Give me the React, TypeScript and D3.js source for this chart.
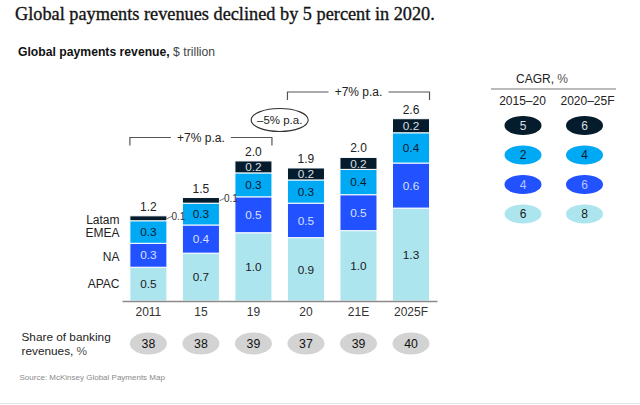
import React from "react";
import * as d3 from "d3";

// Global payments revenue by region, $ trillion
const years = ["2011", "15", "19", "20", "21E", "2025F"];
const regions = ["APAC", "NA", "EMEA", "Latam"];
const apac = [0.48, 0.68, 0.97, 0.9, 1.0, 1.32];
const na = [0.34, 0.4, 0.51, 0.49, 0.51, 0.64];
const emea = [0.32, 0.31, 0.34, 0.33, 0.36, 0.43];
const latam = [0.07, 0.08, 0.17, 0.17, 0.17, 0.2];
const bankingShare = [38, 38, 39, 37, 39, 40];

// CAGR table (rows: Latam, EMEA, NA, APAC)
const cagrRows = ["Latam", "EMEA", "NA", "APAC"];
const cagr1520 = [5, 2, 4, 6];
const cagr2025 = [6, 4, 6, 8];

const colors: Record<string, string> = {
  APAC: "#ade5ef",
  NA: "#2251ff",
  EMEA: "#00a9f4",
  Latam: "#051c2c",
};
const textColors: Record<string, string> = {
  APAC: "#1a1a1a",
  NA: "#d8e0ff",
  EMEA: "#0b1a2a",
  Latam: "#d9dde2",
};

const SANS = "'Liberation Sans', Arial, sans-serif";
const fmt = d3.format(".1f");

export default function App() {
  const series: Record<string, number[]> = { APAC: apac, NA: na, EMEA: emea, Latam: latam };
  const rows = years.map((y, i) => {
    const r: any = { year: y };
    regions.forEach((k) => (r[k] = series[k][i]));
    return r;
  });
  const stack = d3.stack<any>().keys(regions)(rows);

  const x = d3.scaleBand().domain(years).range([122, 437.4]).paddingInner(0.295).paddingOuter(0.15);
  const y = d3.scaleLinear().domain([0, 2.6]).range([301, 118]);
  const bw = x.bandwidth();
  const totals = rows.map((r) => d3.sum(regions, (k) => r[k]));

  const bar0 = stack.map((s) => s[0]);
  const regionLabelY: Record<string, number> = {
    APAC: (y(bar0[0][0]) + y(bar0[0][1])) / 2,
    NA: (y(bar0[1][0]) + y(bar0[1][1])) / 2 + 1,
    EMEA: (y(bar0[2][0]) + y(bar0[2][1])) / 2 + 1,
    Latam: y(bar0[3][1]) + 3.5,
  };

  const bx = (k: string) => x(k) as number;
  const cx = (k: string) => bx(k) + bw / 2;

  // growth brackets
  const b1 = { x1: bx("2011"), x2: bx("19") + bw, y: 137.5, text: "+7% p.a." };
  const b2 = { x1: bx("20"), x2: bx("2025F") + bw, y: 92, text: "+7% p.a." };
  const dipX = (cx("19") + cx("20")) / 2;

  const cagrX = [523, 584.5];
  const cagrY = d3.scalePoint().domain(cagrRows).range([125.5, 214]);

  return (
    <svg width={640} height={405} style={{ position: "absolute", left: 0, top: 0, background: "#fff" }}>
      <text
        x={15}
        y={19.5}
        fontFamily="'Liberation Serif', 'Times New Roman', serif"
        fontSize={18.3}
        fill="#151515"
        stroke="#151515"
        strokeWidth={0.35}
      >
        Global payments revenues declined by 5 percent in 2020.
      </text>
      <text x={18} y={55.5} fontFamily={SANS} fontSize={12.2} fill="#111">
        <tspan fontWeight="bold">Global payments revenue,</tspan>
        <tspan fill="#444"> $ trillion</tspan>
      </text>

      {/* stacked bars */}
      {stack.map((s) => (
        <g key={s.key}>
          {s.map((d, i) => {
            const top = y(d[1]);
            const bot = y(d[0]);
            const h = bot - top;
            const v = d[1] - d[0];
            const inside = h > 8;
            return (
              <g key={i}>
                <rect x={bx(years[i])} y={top} width={bw} height={h} fill={colors[s.key]} stroke="#fff" strokeWidth={1} />
                {inside ? (
                  <text
                    x={cx(years[i])}
                    y={(top + bot) / 2 + 4.2}
                    textAnchor="middle"
                    fontFamily={SANS}
                    fontSize={11.8}
                    fill={textColors[s.key]}
                  >
                    {fmt(v)}
                  </text>
                ) : (
                  <g>
                    <line
                      x1={bx(years[i]) + bw}
                      y1={(top + bot) / 2 + 0.5}
                      x2={bx(years[i]) + bw + 5}
                      y2={(top + bot) / 2 - 2}
                      stroke="#555"
                      strokeWidth={0.8}
                    />
                    <text x={bx(years[i]) + bw + 4.5} y={(top + bot) / 2 + 1.5} fontFamily={SANS} fontSize={10} fill="#333">
                      {fmt(v)}
                    </text>
                  </g>
                )}
              </g>
            );
          })}
        </g>
      ))}

      {/* totals */}
      {years.map((yr, i) => (
        <text key={yr} x={cx(yr)} y={y(totals[i]) - 5} textAnchor="middle" fontFamily={SANS} fontSize={12} fill="#222">
          {fmt(totals[i])}
        </text>
      ))}

      {/* region labels */}
      {regions.map((k) => (
        <text key={k} x={119.5} y={regionLabelY[k] + 4.3} textAnchor="end" fontFamily={SANS} fontSize={12} fill="#222">
          {k}
        </text>
      ))}

      {/* axis */}
      <line x1={122.5} x2={437.5} y1={301.5} y2={301.5} stroke="#8a8a8a" strokeWidth={1.5} />
      {years.map((yr) => (
        <text key={yr} x={cx(yr)} y={316} textAnchor="middle" fontFamily={SANS} fontSize={12} fill="#333">
          {yr}
        </text>
      ))}

      {/* growth brackets */}
      {[b1, b2].map((b, i) => {
        const mid = (b.x1 + b.x2) / 2;
        const half = 30;
        return (
          <g key={i} stroke="#555" strokeWidth={1.2} fill="none">
            <path d={`M${b.x1},${b.y + 8}V${b.y}H${mid - half}`} />
            <path d={`M${mid + half},${b.y}H${b.x2}V${b.y + 8}`} />
            <text x={mid} y={b.y + 4.3} textAnchor="middle" fontFamily={SANS} fontSize={12} fill="#222" stroke="none">
              {b.text}
            </text>
          </g>
        );
      })}
      <ellipse cx={dipX} cy={120} rx={28.5} ry={11.5} fill="#fff" stroke="#333" strokeWidth={1.1} />
      <text x={dipX} y={124.2} textAnchor="middle" fontFamily={SANS} fontSize={11.5} fill="#222">
        –5% p.a.
      </text>

      {/* share of banking revenues */}
      <text x={21.5} y={341} fontFamily={SANS} fontSize={11.8} fill="#222">Share of banking</text>
      <text x={21.5} y={355} fontFamily={SANS} fontSize={11.8} fill="#222">revenues, <tspan fill="#555">%</tspan></text>
      {years.map((yr, i) => (
        <g key={yr}>
          <ellipse cx={cx(yr)} cy={343.5} rx={18.5} ry={11} fill="#d3d3d3" />
          <text x={cx(yr)} y={348} textAnchor="middle" fontFamily={SANS} fontSize={12.3} fill="#111">
            {bankingShare[i]}
          </text>
        </g>
      ))}

      <text x={19.5} y={379.5} fontFamily={SANS} fontSize={8} fill="#8a8a8a">Source: McKinsey Global Payments Map</text>

      {/* CAGR panel */}
      <text x={542} y={83} textAnchor="middle" fontFamily={SANS} fontSize={12} fill="#222">
        CAGR, <tspan fill="#555">%</tspan>
      </text>
      <line x1={491} x2={616} y1={89} y2={89} stroke="#777" strokeWidth={1.2} />
      <text x={522.5} y={105} textAnchor="middle" fontFamily={SANS} fontSize={12} fill="#222">2015–20</text>
      <text x={587.5} y={105} textAnchor="middle" fontFamily={SANS} fontSize={12} fill="#222">2020–25F</text>
      {cagrRows.map((k, r) => (
        <g key={k}>
          {[cagr1520[r], cagr2025[r]].map((v, c) => (
            <g key={c}>
              <ellipse cx={cagrX[c]} cy={cagrY(k) as number} rx={18.5} ry={9.5} fill={colors[k]} />
              <text
                x={cagrX[c]}
                y={(cagrY(k) as number) + 4.3}
                textAnchor="middle"
                fontFamily={SANS}
                fontSize={12}
                fill={k === "NA" ? "#b8c6ff" : textColors[k]}
              >
                {v}
              </text>
            </g>
          ))}
        </g>
      ))}

      <line x1={0} x2={640} y1={403.5} y2={403.5} stroke="#e6e6e6" strokeWidth={1} />
    </svg>
  );
}
